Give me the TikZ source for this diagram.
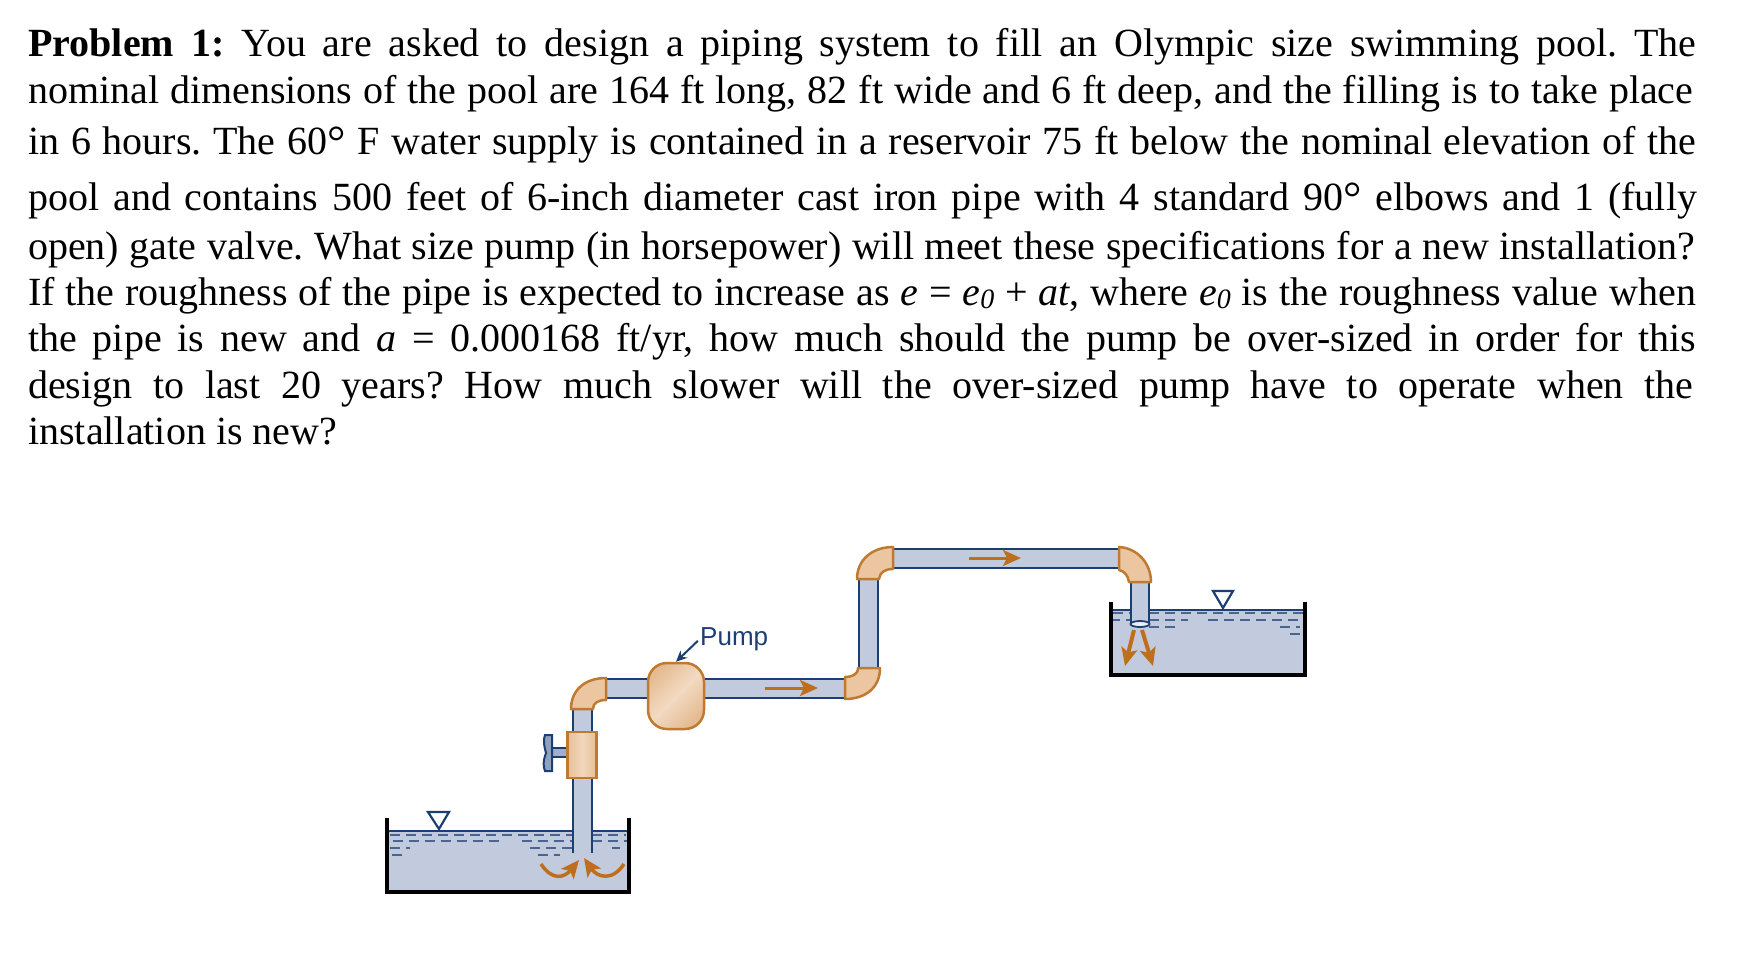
\documentclass[tikz,border=0pt]{standalone}
\usepackage{fontspec}
\setmainfont{Liberation Serif}
\newfontfamily\labelfont{Liberation Sans}
\usetikzlibrary{arrows.meta}
\definecolor{pipeblue}{HTML}{C2CBDD}
\definecolor{edgeblue}{HTML}{1C3F73}
\definecolor{elbowtan}{HTML}{EBC6A0}
\definecolor{edgetan}{HTML}{BF7A30}
\definecolor{flowtan}{HTML}{BE6F1E}
\newcommand{\fillrow}[2]{\hbox to #1pt{#2}}
\newcommand{\degsign}{\raisebox{-3pt}{\fontsize{46}{46}\selectfont °}}
\newcommand{\subzero}{\raisebox{-3pt}{\fontsize{28}{28}\selectfont\textit{0}}}
\frenchspacing
\tikzset{textrow/.style={anchor=base west,inner sep=0pt,font=\fontsize{40}{40}\selectfont},
	pipefill/.style={fill=pipeblue,draw=none},
	pipeedge/.style={draw=edgeblue,line width=2.5pt},
	elbow/.style={fill=elbowtan,draw=edgetan,line width=2.5pt,line join=round},
	tank/.style={draw=black,line width=3.5pt},
	ripple/.style={draw=edgeblue!80,line width=2pt,dash pattern=on 10pt off 6pt},
	level/.style={draw=edgeblue,line width=2.2pt,fill=white,line join=miter},
	flow/.style={draw=flowtan,line width=3pt,-{Stealth[length=18pt,width=16pt,inset=4pt]}},
	pumpbox/.style={draw=edgetan,line width=2.5pt,rounded corners=19pt,minimum width=56pt,minimum height=66pt,
		inner sep=0pt,left color=elbowtan!85!brown,right color=elbowtan!85!brown,middle color=elbowtan!65,shading angle=45},
	valvebox/.style={draw=edgetan,line width=2.5pt,minimum width=29pt,minimum height=46pt,
		inner sep=0pt,left color=elbowtan!90!brown,right color=elbowtan!90!brown,middle color=elbowtan!70}}

\begin{document}
\begin{tikzpicture}
	[x=1pt,y=-1pt]
	\useasboundingbox (0,0) rectangle (1750,962);
	% problem statement
	\node [textrow] (line1) at (28,56) {\fillrow{1668}{\textbf{Problem 1:} You are asked to design a piping system to fill an Olympic size swimming pool. The}};
	\node [textrow] (line2) at (28,103) {\fillrow{1665}{nominal dimensions of the pool are 164 ft long, 82 ft wide and 6 ft deep, and the filling is to take place}};
	\node [textrow] (line3) at (28,154) {\fillrow{1668}{in 6 hours. The 60\degsign{} F water supply is contained in a reservoir 75 ft below the nominal elevation of the}};
	\node [textrow] (line4) at (28,210) {\fillrow{1669}{pool and contains 500 feet of 6-inch diameter cast iron pipe with 4 standard 90\degsign{} elbows and 1 (fully}};
	\node [textrow] (line5) at (28,259) {\fillrow{1667}{open) gate valve. What size pump (in horsepower) will meet these specifications for a new installation?}};
	\node [textrow] (line6) at (28,305) {\fillrow{1668}{If the roughness of the pipe is expected to increase as \textit{e} = \textit{e}\subzero{} + \textit{at}, where \textit{e}\subzero{} is the roughness value when}};
	\node [textrow] (line7) at (28,351) {\fillrow{1668}{the pipe is new and \textit{a} = 0.000168 ft/yr, how much should the pump be over-sized in order for this}};
	\node [textrow] (line8) at (28,398) {\fillrow{1665}{design to last 20 years? How much slower will the over-sized pump have to operate when the}};
	\node [textrow] (line9) at (28,444) {installation is new?};

	% lower tank
	\fill [pipeblue] (387,831) rectangle (629,892);
	\draw [pipeedge] (387,831) -- (629,831);
	\draw [ripple] (390,834.5) -- (573,834.5) (592,834.5) -- (626,834.5);
	\draw [ripple] (393,841) -- (500,841) (522,841) -- (573,841) (592,841) -- (627,841);
	\draw [ripple] (390,848) -- (410,848) (530,848) -- (573,848) (612,848) -- (620,848);
	\draw [ripple] (392,855) -- (403,855) (538,855) -- (560,855);
	\draw [tank] (387,818) -- (387,892) -- (629,892) -- (629,818);
	\draw [level] (428,812) -- (449,812) -- (439,829) -- cycle;

	% upper tank
	\fill [pipeblue] (1111,610) rectangle (1305,675);
	\draw [pipeedge] (1111,610) -- (1305,610);
	\draw [ripple] (1113,613) -- (1131,613) (1149,613) -- (1303,613);
	\draw [ripple] (1110,620) -- (1130,620) (1149,620) -- (1188,620) (1208,620) -- (1302,620);
	\draw [ripple] (1149,627) -- (1180,627) (1280,627) -- (1300,627);
	\draw [ripple] (1290,634) -- (1302,634);
	\draw [tank] (1111,602) -- (1111,675) -- (1305,675) -- (1305,602);
	\draw [level] (1213,591) -- (1233,591) -- (1223,608) -- cycle;

	% pipe runs
	\fill [pipefill] (573,700) rectangle (592,853);
	\draw [pipeedge] (573,700) -- (573,853) (592,700) -- (592,853);
	\fill [pipefill] (600,679) rectangle (850,698);
	\draw [pipeedge] (600,679) -- (850,679) (600,698) -- (850,698);
	\fill [pipefill] (859,575) rectangle (878,672);
	\draw [pipeedge] (859,575) -- (859,672) (878,575) -- (878,672);
	\fill [pipefill] (890,549) rectangle (1125,568);
	\draw [pipeedge] (890,549) -- (1125,549) (890,568) -- (1125,568);
	\fill [pipefill] (1131,578) rectangle (1149,624);
	\draw [pipeedge] (1131,578) -- (1131,624) (1149,578) -- (1149,624);
	\draw [draw=edgeblue,line width=1.8pt,fill=white!70!pipeblue] (1140,624) ellipse (9.5pt and 3pt);

	% elbows
	\draw [elbow] (571,709) .. controls (571,690) and (585,678) .. (606,678) -- (606,700) .. controls (598,700) and (593,703) .. (593,709) -- cycle;
	\draw [elbow] (845,677) .. controls (851,677) and (858,675) .. (858,668) -- (880,668) .. controls (880,688) and (865,699) .. (845,699) -- cycle;
	\draw [elbow] (857,579) .. controls (857,560) and (872,547) .. (893,547) -- (893,569) .. controls (885,569) and (880,572) .. (879,579) -- cycle;
	\draw [elbow] (1119,547) .. controls (1137,548) and (1151,563) .. (1151,582) -- (1129,582) .. controls (1128,575) and (1124,571) .. (1119,570) -- cycle;

	% valve and pump
	\draw [draw=edgeblue,line width=2pt,fill=pipeblue!80!edgeblue] (552,748) rectangle (568,757);
	\draw [draw=edgeblue,line width=2pt,fill=pipeblue!70!edgeblue] (545,735) -- (552,735) -- (552,771) -- (545,771) .. controls (543,766) and (543,761) .. (546,753) .. controls (544,746) and (543,740) .. (545,735) -- cycle;
	\node [valvebox] (valve) at (582,755) {};
	\node [pumpbox] (pump) at (676,696) {};
	\node [anchor=base west,inner sep=0pt,text=edgeblue,font=\labelfont\fontsize{26}{26}\selectfont] (pumplabel) at (700,645) {Pump};
	\draw [draw=edgeblue,line width=2pt,-{Stealth[length=11pt,width=10pt]},shorten <=3pt] (pumplabel.west) -- (pump.north);

	% flow arrows
	\coordinate (runA) at (765,688);
	\coordinate (runB) at (818,688);
	\coordinate (runC) at (969,558);
	\coordinate (runD) at (1021,558);
	\draw [flow] (runA) -- (runB);
	\draw [flow] (runC) -- (runD);
	\coordinate (inA) at (541,864);
	\coordinate (inB) at (579,860);
	\coordinate (inC) at (624,864);
	\coordinate (inD) at (584,858);
	\draw [flow,line width=3.5pt] (inA) .. controls (553,882) and (565,877) .. (inB);
	\draw [flow,line width=3.5pt] (inC) .. controls (612,882) and (597,877) .. (inD);
	\coordinate (outA) at (1134,630);
	\coordinate (outB) at (1125,666);
	\coordinate (outC) at (1142,630);
	\coordinate (outD) at (1153,666);
	\draw [flow,line width=4pt] (outA) -- (outB);
	\draw [flow,line width=4pt] (outC) -- (outD);
\end{tikzpicture}
\end{document}
